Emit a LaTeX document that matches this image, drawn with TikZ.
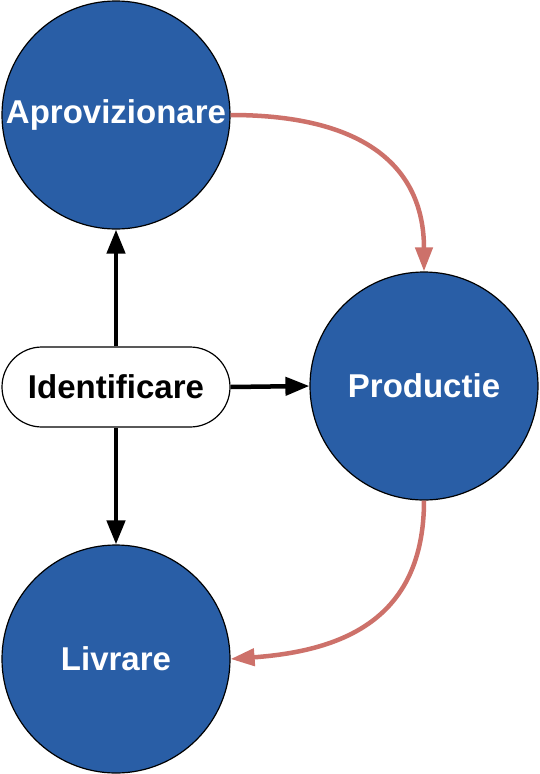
\documentclass[tikz,border=0pt]{standalone}
\usepackage{fontspec}
\setmainfont{Liberation Sans}
\usetikzlibrary{arrows.meta}
\definecolor{circblue}{RGB}{41,94,166}
\definecolor{flowred}{RGB}{205,113,106}
\begin{document}
\begin{tikzpicture}[x=1pt,y=1pt,
  phase/.style={circle,draw=black,line width=1.2pt,fill=circblue,minimum size=228pt,inner sep=0pt,
    text=white,font=\fontsize{33}{39}\selectfont\bfseries},
  startbox/.style={rectangle,rounded corners=40pt,draw=black,line width=1.2pt,fill=white,
    minimum width=228pt,minimum height=80pt,inner sep=0pt,text=black,font=\fontsize{33}{39}\selectfont\bfseries},
  blackarrow/.style={draw=black,line width=4.5pt,-{Triangle[length=24pt,width=18pt]}},
  redarrow/.style={draw=flowred,line width=4.5pt,-{Triangle[length=24pt,width=17pt]}}]
\useasboundingbox (0,0) rectangle (539,-774);
\node[phase] (A) at (116,-115) {Aprovizionare};
\node[phase] (P) at (424,-386) {Productie};
\node[phase] (L) at (116,-659) {Livrare};
\node[startbox] (I) at (116,-387) {Identificare};
\draw[blackarrow] (I.north) -- (A.south);
\draw[blackarrow] (I.south) -- (L.north);
\draw[blackarrow] (I.east) -- (P.west);
\draw[redarrow] (A.east) .. controls +(140,0) and +(0,100) .. (P.north);
\draw[redarrow] (P.south) .. controls +(0,-120) and +(110,8) .. (L.east);
\end{tikzpicture}
\end{document}
